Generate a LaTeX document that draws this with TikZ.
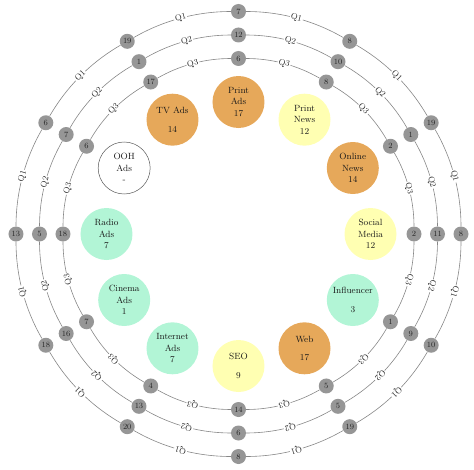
\documentclass[tikz,border=0pt]{standalone}
\definecolor{orangeC}{RGB}{230,168,90}
\definecolor{yellowC}{RGB}{255,255,178}
\definecolor{mintC}{RGB}{178,245,214}
\definecolor{ringC}{RGB}{135,135,135}
\definecolor{dotC}{RGB}{150,150,150}
\tikzset{
  qdot/.style={circle, fill=dotC, inner sep=0pt, minimum size=15pt, font=\fontsize{8}{9}\selectfont, text=black!85},
  ring/.style={draw=ringC, line width=0.6pt},
  qlab/.style={fill=white, inner sep=1pt, font=\fontsize{8.5}{10}\selectfont, sloped, allow upside down, midway, text=black!85},
  media/.style={circle, minimum size=52pt, inner sep=0pt, align=center, font=\fontsize{9}{11.7}\selectfont, text=black!90},
}
\begin{document}
\begin{tikzpicture}[x=1pt,y=1pt]
\useasboundingbox (-238.5,-235) rectangle (235.5,234);
% ring nodes
\foreach \r/\q/\vals in {222.5/1/{7,8,19,8,10,19,8,20,18,13,6,19},
                         199/2/{12,10,1,11,9,5,6,13,16,5,7,1},
                         175.5/3/{6,8,2,2,1,5,14,4,7,18,6,17}} {
  \foreach \v [count=\i from 0] in \vals {
    \node[qdot] (q\q-\i) at ({90-30*\i}:\r pt) {\v};
  }
}
% ring arcs with labels
\foreach \q in {1,2,3} {
  \foreach \i in {0,...,11} {
    \pgfmathtruncatemacro\j{mod(\i+1,12)}
    \draw[ring] (q\q-\i) to[bend left=15, looseness=0.87] node[qlab]{Q\q} (q\q-\j);
  }
}
% media nodes
\foreach \nm/\txt/\col/\ang in {
  printads/{Print\\Ads\\17}/orangeC/90,
  printnews/{Print\\News\\12}/yellowC/60,
  onlinenews/{Online\\News\\14}/orangeC/30,
  social/{Social\\Media\\12}/yellowC/0,
  influencer/{Influencer\\[6.5pt]3}/mintC/-30,
  web/{Web\\[6.5pt]17}/orangeC/-60,
  seo/{SEO\\[6.5pt]9}/yellowC/-90,
  internet/{Internet\\Ads\\7}/mintC/-120,
  cinema/{Cinema\\Ads\\1}/mintC/-150,
  radio/{Radio\\Ads\\7}/mintC/180,
  tv/{TV Ads\\[6.5pt]14}/orangeC/120} {
  \node[media, fill=\col] (\nm) at (\ang:132pt) {\txt};
}
\node[media, fill=white, draw=black!65, line width=0.5pt] (ooh) at (150:132pt) {OOH\\Ads\\-};
\end{tikzpicture}
\end{document}
